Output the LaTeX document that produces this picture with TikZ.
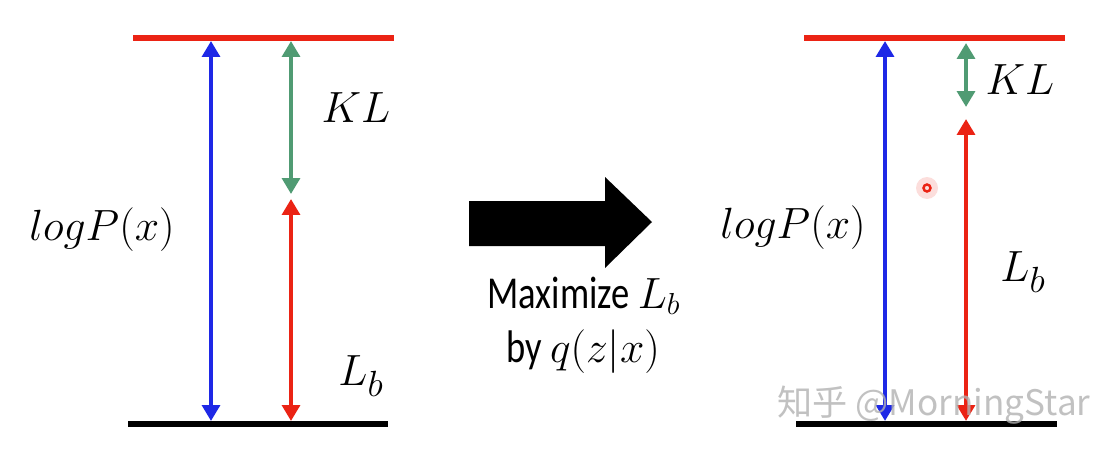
\documentclass[tikz,border=0pt]{standalone}
\usepackage{fontspec}
\newfontfamily\capfont[FakeStretch=0.8]{Carlito}
\newfontfamily\cjkfont{Noto Sans CJK SC}
\usetikzlibrary{arrows.meta}

\definecolor{lvred}{RGB}{235,35,20}
\definecolor{lvblue}{RGB}{30,40,230}
\definecolor{lvgreen}{RGB}{80,155,115}

\tikzset{
	level/.style={line width=3.2pt},
	gap/.style={line width=2.6pt, arrows={Triangle[length=9pt,width=10pt]-Triangle[length=9pt,width=10pt]}},
	mathlabel/.style={font=\fontsize{28}{33}\selectfont},
	caption/.style={font=\capfont\fontsize{26}{31}\selectfont}
}

\begin{document}
\begin{tikzpicture}[x=0.02cm, y=-0.02cm]
	\useasboundingbox (0,0) rectangle (1108,456);
	% before
	\coordinate (topA) at (133,38);  \coordinate (topB) at (394,38);
	\coordinate (botA) at (128,424); \coordinate (botB) at (388,424);
	\coordinate (pTop) at (211,41);  \coordinate (pBot) at (211,421);
	\coordinate (kTop) at (291,41);  \coordinate (kBot) at (291,194);
	\coordinate (lTop) at (291,199); \coordinate (lBot) at (291,421);
	\draw [gap, lvblue] (pTop) -- (pBot);
	\draw [gap, lvgreen] (kTop) -- (kBot);
	\draw [gap, lvred] (lTop) -- (lBot);
	\draw [level, lvred] (topA) -- (topB);
	\draw [level, black] (botA) -- (botB);
	\node [mathlabel] (logp) at (102,230) {$logP(x)$};
	\node [mathlabel] (kl) at (356,108) {$KL$};
	\node [mathlabel] (lb) at (361,376) {$L_b$};
	% big arrow
	\fill [black] (469,201) -- (605,201) -- (605,177) -- (652,222) -- (605,268) -- (605,246) -- (469,246) -- cycle;
	\node [caption] (maxi) at (584,296) {Maximize $L_b$};
	\node [caption] (byq) at (583,352) {by $q(z|x)$};
	% after
	\coordinate (topC) at (804,38);  \coordinate (topD) at (1065,38);
	\coordinate (botC) at (796,424); \coordinate (botD) at (1057,424);
	\coordinate (qTop) at (885,41);  \coordinate (qBot) at (885,421);
	\coordinate (mTop) at (966,43);  \coordinate (mBot) at (966,107);
	\coordinate (nTop) at (966,119); \coordinate (nBot) at (966,421);
	\draw [gap, lvblue] (qTop) -- (qBot);
	\draw [gap, lvgreen] (mTop) -- (mBot);
	\draw [gap, lvred] (nTop) -- (nBot);
	\draw [level, lvred] (topC) -- (topD);
	\draw [level, black] (botC) -- (botD);
	\node [mathlabel] (logp2) at (793,228) {$logP(x)$};
	\node [mathlabel] (kl2) at (1020,80) {$KL$};
	\node [mathlabel] (lb2) at (1023,272) {$L_b$};
	\fill [lvred, opacity=0.15] (927,188) circle (11);
	\draw [lvred, line width=1.4pt] (927,188) circle (3.5);
	\node [text=gray!60, opacity=0.8, font=\cjkfont\fontsize{20}{24}\selectfont] (mark) at (934,405) {知乎 @MorningStar};
\end{tikzpicture}
\end{document}
